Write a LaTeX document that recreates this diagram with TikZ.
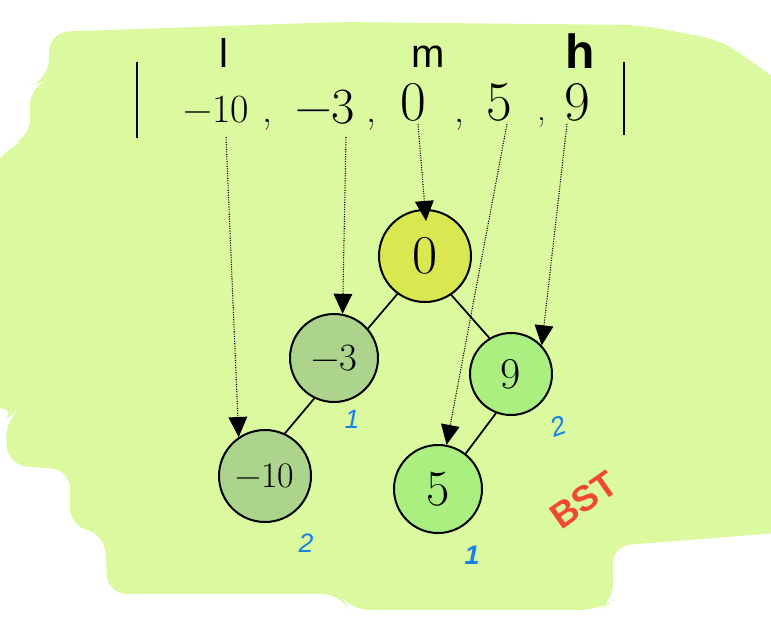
\documentclass[tikz,border=0pt]{standalone}
\usepackage{fontspec}
\newfontfamily\labelsans{Liberation Sans}
\usetikzlibrary{arrows.meta}
\definecolor{bg}{RGB}{219,250,160}
\definecolor{rootfill}{RGB}{217,231,80}
\definecolor{grayfill}{RGB}{172,212,140}
\definecolor{leaffill}{RGB}{170,239,128}
\definecolor{hblue}{RGB}{26,128,232}
\definecolor{hred}{RGB}{240,72,50}
\tikzset{
  bstnode/.style={circle, draw=black, line width=1.5pt, inner sep=0pt},
  arrnum/.style={anchor=base, inner sep=0pt},
  toplabel/.style={anchor=base, inner sep=0pt},
  treeedge/.style={line width=1.3pt},
  ptr/.style={densely dotted, line width=0.8pt, -{Triangle[length=15pt,width=14pt]}},
  hand/.style={text=hblue, inner sep=0pt, font=\labelsans\itshape\fontsize{20}{20}\selectfont}
}
\begin{document}
\begin{tikzpicture}[x=0.75pt,y=-0.75pt]
\fill[white] (0,0) rectangle (771,621);
\useasboundingbox (0,0) rectangle (771,621);
% background blob
\fill[bg, rounded corners=14pt]
  (50,32) -- (340,22) -- (640,25) -- (720,40) -- (757,65) -- (790,90)
  -- (790,478) -- (762,484) -- (790,490) -- (790,532) -- (612,546)
  -- (614,600) -- (600,610) -- (350,610) -- (340,594) -- (108,594)
  -- (104,533) -- (70,527) -- (70,470) -- (8,465) -- (5,420) -- (18,410)
  -- (-20,406) -- (-20,186) -- (10,145) -- (30,138) -- (30,86) -- (48,80) -- cycle;

% array
\draw[line width=2.2pt] (137,62) -- (137,138);
\draw[line width=2.2pt] (624,62) -- (624,135);
\node[arrnum, font=\fontsize{30}{30}\selectfont] (a1) at (216,122) {−10};
\node[arrnum, font=\fontsize{38}{38}\selectfont] (a2) at (325,123) {−3};
\node[arrnum, font=\fontsize{42}{42}\selectfont] (a3) at (413,120) {0};
\node[arrnum, font=\fontsize{42}{42}\selectfont] (a4) at (499,120) {5};
\node[arrnum, font=\fontsize{42}{42}\selectfont] (a5) at (577,120) {9};
\node[arrnum, font=\fontsize{30}{30}\selectfont] (c1) at (267,122) {,};
\node[arrnum, font=\fontsize{30}{30}\selectfont] (c2) at (371,122) {,};
\node[arrnum, font=\fontsize{30}{30}\selectfont] (c3) at (459,122) {,};
\node[arrnum, font=\fontsize{26}{26}\selectfont] (c4) at (542,120) {,};

\node[toplabel, font=\labelsans\fontsize{30}{30}\selectfont] (ll) at (224,67) {l};
\node[toplabel, font=\labelsans\fontsize{30}{30}\selectfont] (lm) at (428,67) {m};
\node[toplabel, font=\labelsans\bfseries\fontsize{36}{36}\selectfont] (lh) at (580,68) {h};

% tree nodes
\node[bstnode, fill=rootfill, minimum size=69pt, font=\fontsize{41}{41}\selectfont] (n0) at (425,256) {0};
\node[bstnode, fill=grayfill, minimum size=66pt, font=\fontsize{29}{29}\selectfont] (n3) at (334,358) {−3};
\node[bstnode, fill=leaffill, minimum size=61.5pt, font=\fontsize{33}{33}\selectfont] (n9) at (511,374) {9};
\node[bstnode, fill=grayfill, minimum size=69pt, font=\fontsize{27}{27}\selectfont] (n10) at (265,476) {−10};
\node[bstnode, fill=leaffill, minimum size=66pt, font=\fontsize{38}{38}\selectfont] (n5) at (438,489) {5};

% tree edges
\draw[treeedge] (n0.234) -- (n3.41);
\draw[treeedge] (n0.304) -- (n9.121);
\draw[treeedge] (n3.244) -- (n10.65);
\draw[treeedge] (n9.249) -- (n5.52);

% pointer arrows
\coordinate (s1) at (226,137);
\coordinate (s2) at (346,137);
\coordinate (s3) at (418,124);
\coordinate (s4) at (507,124);
\coordinate (s5) at (567,124);
\draw[ptr] (s1) -- (n10.124);
\draw[ptr] (s2) -- (n3.79);
\draw[ptr, shorten >=-9pt] (s3) -- (n0.north);
\draw[ptr] (s4) -- (n5.79);
\draw[ptr] (s5) -- (n9.43);

% handwritten heights
\node[hand] (h3) at (352,419) {1};
\node[hand, rotate=20] (h9) at (558,426) {2};
\node[hand] (h10) at (306,543) {2};
\node[hand, font=\labelsans\bfseries\itshape\fontsize{20}{20}\selectfont] (h5) at (472,555) {1};
\node[text=hred, rotate=35, inner sep=0pt, font=\labelsans\bfseries\fontsize{27}{27}\selectfont] (bst) at (584,500) {BST};
\end{tikzpicture}
\end{document}
